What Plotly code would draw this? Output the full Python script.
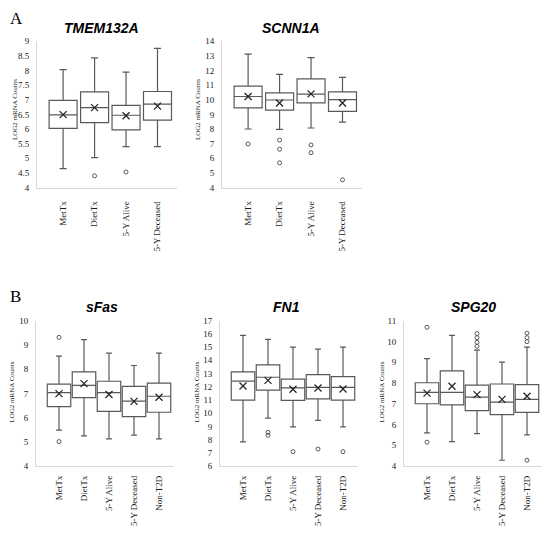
import plotly.graph_objects as go

# group labels
groups_a = ["MetTx", "DietTx", "5-Y Alive", "5-Y Deceased"]
groups_b = ["MetTx", "DietTx", "5-Y Alive", "5-Y Deceased", "Non-T2D"]

# TMEM132A
tmem_low = [4.65, 5.02, 5.40, 5.40]
tmem_q1 = [6.02, 6.22, 5.97, 6.30]
tmem_med = [6.48, 6.73, 6.47, 6.85]
tmem_q3 = [6.98, 7.27, 6.81, 7.28]
tmem_high = [8.03, 8.43, 7.94, 8.75]
tmem_mean = [6.49, 6.73, 6.45, 6.78]
tmem_out_x = ["DietTx", "5-Y Alive"]
tmem_out_y = [4.40, 4.53]

# SCNN1A
scnn_low = [8.0, 7.98, 8.07, 8.47]
scnn_q1 = [9.44, 9.29, 9.78, 9.20]
scnn_med = [10.22, 9.98, 10.38, 10.0]
scnn_q3 = [10.93, 10.47, 11.42, 10.53]
scnn_high = [13.11, 11.73, 12.87, 11.53]
scnn_mean = [10.22, 9.78, 10.40, 9.78]
scnn_out_x = ["MetTx", "DietTx", "DietTx", "DietTx", "5-Y Alive", "5-Y Alive", "5-Y Deceased"]
scnn_out_y = [6.98, 7.24, 6.62, 5.69, 6.91, 6.38, 4.53]

# sFas
sfas_low = [5.48, 5.25, 5.12, 5.28, 5.12]
sfas_q1 = [6.45, 6.82, 6.26, 6.04, 6.22]
sfas_med = [7.03, 7.33, 7.03, 6.68, 6.88]
sfas_q3 = [7.38, 7.89, 7.50, 7.29, 7.42]
sfas_high = [8.54, 9.22, 8.66, 8.15, 8.66]
sfas_mean = [6.99, 7.40, 6.95, 6.67, 6.84]
sfas_out_x = ["MetTx", "MetTx"]
sfas_out_y = [9.31, 5.01]

# FN1
fn1_low = [7.83, 9.63, 8.97, 9.46, 8.97]
fn1_q1 = [10.99, 11.74, 10.97, 11.09, 10.99]
fn1_med = [12.43, 12.72, 11.91, 11.96, 11.96]
fn1_q3 = [13.12, 13.66, 12.58, 12.92, 12.77]
fn1_high = [15.89, 15.59, 15.0, 14.85, 15.0]
fn1_mean = [12.06, 12.48, 11.81, 11.91, 11.83]
fn1_out_x = ["DietTx", "DietTx", "5-Y Alive", "5-Y Deceased", "Non-T2D"]
fn1_out_y = [8.55, 8.33, 7.09, 7.29, 7.09]

# SPG20
spg_low = [5.60, 5.18, 5.56, 4.28, 5.50]
spg_q1 = [7.0, 6.95, 6.67, 6.48, 6.58]
spg_med = [7.55, 7.55, 7.32, 7.08, 7.21]
spg_q3 = [8.01, 8.58, 7.90, 7.95, 7.92]
spg_high = [9.17, 10.29, 9.58, 9.0, 9.73]
spg_mean = [7.51, 7.84, 7.44, 7.21, 7.36]
spg_out_x = ["MetTx", "MetTx", "5-Y Alive", "5-Y Alive", "5-Y Alive", "5-Y Alive",
             "Non-T2D", "Non-T2D", "Non-T2D", "Non-T2D"]
spg_out_y = [10.68, 5.15, 10.38, 10.18, 9.96, 9.76, 10.4, 10.18, 9.99, 4.28]

# the page body has an 8px margin, so the figure is a bit smaller and offset
OFF = 8
W, H = 550 - 2 * OFF, 534 - 2 * OFF
BOX = "#595959"
AXIS = "#d9d9d9"
SERIF = "Liberation Serif"


def fx(px):
    return (px - OFF) / W


def fy(py):
    return 1 - (py - OFF) / H


panels = [
    dict(title="TMEM132A", groups=groups_a, low=tmem_low, q1=tmem_q1, med=tmem_med, q3=tmem_q3,
         high=tmem_high, mean=tmem_mean, ox=tmem_out_x, oy=tmem_out_y,
         xd=(37, 177), yd=(36.7, 186), xr=(-0.83, 3.62), yr=(4, 9), dtick=0.5, bw=0.89,
         tx=101.5, ty=23, lx=15, ly=107, stand=9),
    dict(title="SCNN1A", groups=groups_a, low=scnn_low, q1=scnn_q1, med=scnn_med, q3=scnn_q3,
         high=scnn_high, mean=scnn_mean, ox=scnn_out_x, oy=scnn_out_y,
         xd=(222, 362), yd=(36.7, 186), xr=(-0.83, 3.62), yr=(4, 14), dtick=1, bw=0.89,
         tx=291, ty=23, lx=198, ly=107, stand=9),
    dict(title="sFas", groups=groups_b, low=sfas_low, q1=sfas_q1, med=sfas_med, q3=sfas_q3,
         high=sfas_high, mean=sfas_mean, ox=sfas_out_x, oy=sfas_out_y,
         xd=(36, 174), yd=(321.7, 470), xr=(-0.92, 4.6), yr=(4, 10), dtick=1, bw=0.94,
         tx=102, ty=308, lx=12, ly=395, stand=5),
    dict(title="FN1", groups=groups_b, low=fn1_low, q1=fn1_q1, med=fn1_med, q3=fn1_q3,
         high=fn1_high, mean=fn1_mean, ox=fn1_out_x, oy=fn1_out_y,
         xd=(220, 358), yd=(321.7, 470), xr=(-0.92, 4.6), yr=(6, 17), dtick=1, bw=0.94,
         tx=286, ty=308, lx=197, ly=395, stand=5),
    dict(title="SPG20", groups=groups_b, low=spg_low, q1=spg_q1, med=spg_med, q3=spg_q3,
         high=spg_high, mean=spg_mean, ox=spg_out_x, oy=spg_out_y,
         xd=(404, 542), yd=(321.7, 470), xr=(-0.92, 4.6), yr=(4, 11), dtick=1, bw=0.94,
         tx=473, ty=308, lx=382, ly=395, stand=5),
]

fig = go.Figure()
annotations = []
layout = {}

for i, p in enumerate(panels, start=1):
    s = "" if i == 1 else str(i)
    xa, ya = "x" + s, "y" + s

    fig.add_trace(go.Box(
        x=p["groups"], q1=p["q1"], median=p["med"], q3=p["q3"],
        lowerfence=p["low"], upperfence=p["high"],
        xaxis=xa, yaxis=ya, width=p["bw"], whiskerwidth=0.25,
        fillcolor="white", line=dict(color=BOX, width=1.2),
        boxpoints=False, showlegend=False))

    fig.add_trace(go.Scatter(
        x=p["groups"], y=p["mean"], mode="markers", xaxis=xa, yaxis=ya,
        marker=dict(symbol="x-thin", size=7, line=dict(color="#262626", width=1.3)),
        showlegend=False))

    fig.add_trace(go.Scatter(
        x=p["ox"], y=p["oy"], mode="markers", xaxis=xa, yaxis=ya,
        marker=dict(symbol="circle-open", size=4, color=BOX, line=dict(width=1)),
        showlegend=False))

    layout["xaxis" + s] = dict(
        domain=[fx(p["xd"][0]), fx(p["xd"][1])], anchor=ya, type="category",
        categoryorder="array", categoryarray=p["groups"], range=list(p["xr"]),
        showline=True, linecolor=AXIS, linewidth=1, ticks="", showgrid=False,
        zeroline=False, tickangle=-90, ticklabelstandoff=p["stand"],
        tickfont=dict(family=SERIF, size=9, color="#1a1a1a"))
    layout["yaxis" + s] = dict(
        domain=[fy(p["yd"][1]), fy(p["yd"][0])], anchor=xa, range=list(p["yr"]),
        dtick=p["dtick"], showline=True, linecolor=AXIS, linewidth=1, ticks="",
        showgrid=False, zeroline=False, ticklabelstandoff=5,
        tickfont=dict(family=SERIF, size=9, color="#1a1a1a"))

    annotations.append(dict(
        text="<b><i>" + p["title"] + "</i></b>", x=fx(p["tx"]), y=fy(p["ty"]),
        xanchor="center", yanchor="middle", xref="paper", yref="paper", showarrow=False,
        font=dict(family="Liberation Sans", size=14, color="black")))
    annotations.append(dict(
        text="LOG2 mRNA Counts", x=fx(p["lx"]), y=fy(p["ly"]), textangle=-90,
        xanchor="center", yanchor="middle", xref="paper", yref="paper", showarrow=False,
        font=dict(family=SERIF, size=7, color="#1a1a1a")))

annotations.append(dict(text="A", x=fx(16), y=fy(14), xanchor="center", yanchor="middle",
                        xref="paper", yref="paper", showarrow=False,
                        font=dict(family=SERIF, size=17, color="black")))
annotations.append(dict(text="B", x=fx(15), y=fy(297), xanchor="center", yanchor="middle",
                        xref="paper", yref="paper", showarrow=False,
                        font=dict(family=SERIF, size=17, color="black")))

fig.update_layout(
    width=W, height=H, margin=dict(l=0, r=0, t=0, b=0),
    paper_bgcolor="white", plot_bgcolor="white",
    annotations=annotations, **layout)

fig.write_html("out.html")
